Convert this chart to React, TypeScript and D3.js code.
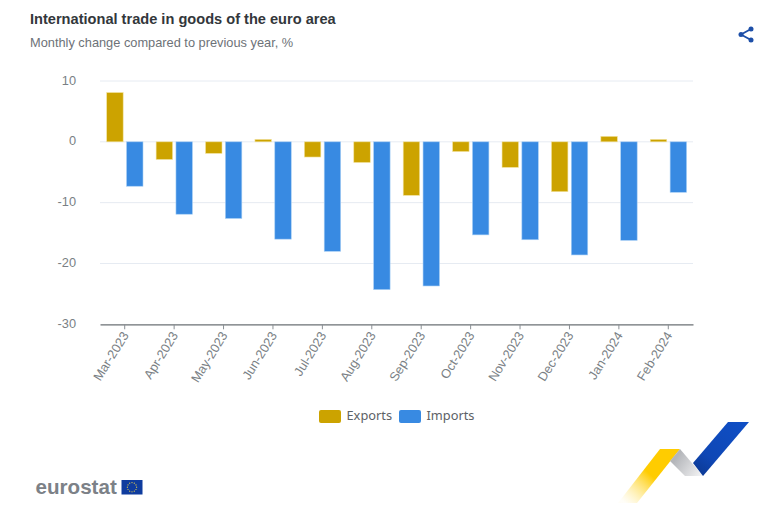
import React, { useEffect, useRef } from 'react';
import * as d3 from 'd3';

const months = ['Mar-2023', 'Apr-2023', 'May-2023', 'Jun-2023', 'Jul-2023', 'Aug-2023', 'Sep-2023', 'Oct-2023', 'Nov-2023', 'Dec-2023', 'Jan-2024', 'Feb-2024'];
const exportsPct = [8.1, -2.9, -1.9, 0.4, -2.5, -3.4, -8.8, -1.6, -4.2, -8.2, 0.9, 0.4];
const importsPct = [-7.3, -11.9, -12.6, -16.0, -18.0, -24.3, -23.7, -15.3, -16.1, -18.6, -16.2, -8.3];
const yTicks = [10, 0, -10, -20, -30];
const seriesNames = ['Exports', 'Imports'];

const GOLD = '#cca300';
const BLUE = '#388ae2';
const FONT = '"Liberation Sans", Arial, sans-serif';

const W = 781;
const H = 509;

const App: React.FC = () => {
  const svgRef = useRef<SVGSVGElement>(null);

  useEffect(() => {
    if (!svgRef.current) return;
    const svg = d3.select(svgRef.current);
    svg.selectAll('*').remove();

    const x = d3.scaleBand<string>().domain(months).range([100, 693]);
    const inner = d3.scaleBand<string>().domain(seriesNames).range([6.7, 43]).paddingInner(0.17);
    const y = d3.scaleLinear().domain([-30, 10]).range([324.3, 81]);

    // grid
    svg.append('g')
      .selectAll('line')
      .data(yTicks.filter(d => d !== -30))
      .enter()
      .append('line')
      .attr('x1', 100)
      .attr('x2', 693)
      .attr('y1', d => y(d))
      .attr('y2', d => y(d))
      .attr('stroke', '#e6ebf2')
      .attr('stroke-width', 1);

    // y labels
    svg.append('g')
      .selectAll('text')
      .data(yTicks)
      .enter()
      .append('text')
      .attr('x', 76)
      .attr('y', d => y(d) + 3.5)
      .attr('text-anchor', 'end')
      .attr('font-family', FONT)
      .attr('font-size', 12.8)
      .attr('fill', '#7a7f85')
      .text(d => d);

    // bars
    const series = [
      { name: seriesNames[0], values: exportsPct, color: GOLD, stroke: '#f2e3a0' },
      { name: seriesNames[1], values: importsPct, color: BLUE, stroke: '#a9d0f5' },
    ];
    series.forEach(s => {
      svg.append('g')
        .selectAll('rect')
        .data(s.values)
        .enter()
        .append('rect')
        .attr('x', (d, i) => (x(months[i]) as number) + (inner(s.name) as number))
        .attr('y', d => y(Math.max(d, 0)))
        .attr('width', inner.bandwidth())
        .attr('height', d => Math.abs(y(d) - y(0)))
        .attr('fill', s.color)
        .attr('stroke', s.stroke)
        .attr('stroke-width', 0.6);
    });

    // x axis
    const axis = svg.append('g')
      .attr('transform', `translate(0,${y(-30)})`)
      .call(d3.axisBottom(x).tickSize(5).tickSizeOuter(0));
    axis.select('.domain').attr('stroke', '#6b7075').attr('stroke-width', 1.2);
    axis.selectAll('.tick line').attr('stroke', '#8a8f94');
    axis.selectAll('.tick text')
      .attr('font-family', FONT)
      .attr('font-size', 12.8)
      .attr('fill', '#7a7f85')
      .attr('text-anchor', 'end')
      .attr('dy', 0)
      .attr('y', 0)
      .attr('transform', 'translate(4.5,11) rotate(-58)');

    // titles
    svg.append('text')
      .attr('x', 30)
      .attr('y', 24)
      .attr('font-family', FONT)
      .attr('font-size', 14.6)
      .attr('font-weight', 'bold')
      .attr('fill', '#33373b')
      .text('International trade in goods of the euro area');
    svg.append('text')
      .attr('x', 30)
      .attr('y', 46.5)
      .attr('font-family', FONT)
      .attr('font-size', 12.8)
      .attr('fill', '#6d7278')
      .text('Monthly change compared to previous year, %');

    // legend
    const legendX = [319, 399];
    series.forEach((s, i) => {
      svg.append('rect')
        .attr('x', legendX[i])
        .attr('y', 410)
        .attr('width', 22)
        .attr('height', 13)
        .attr('rx', 2)
        .attr('fill', s.color);
      svg.append('text')
        .attr('x', legendX[i] + 27.5)
        .attr('y', 420)
        .attr('font-family', '"Noto Sans", sans-serif')
        .attr('font-size', 12.8)
        .attr('fill', '#5c6166')
        .text(s.name);
    });

    // share icon
    const share = svg.append('g').attr('fill', '#1d4fa8').attr('stroke', '#1d4fa8');
    const sharePts: [number, number][] = [[751, 29], [741, 34.5], [751, 40]];
    share.append('path')
      .attr('fill', 'none')
      .attr('stroke-width', 1.8)
      .attr('d', d3.line()(sharePts));
    share.selectAll('circle')
      .data(sharePts)
      .enter()
      .append('circle')
      .attr('cx', d => d[0])
      .attr('cy', d => d[1])
      .attr('r', 2.5)
      .attr('stroke', 'none');

    // eurostat logo
    svg.append('text')
      .attr('x', 35.5)
      .attr('y', 494)
      .attr('font-family', FONT)
      .attr('font-size', 20.6)
      .attr('font-weight', 'bold')
      .attr('fill', '#7c8187')
      .text('eurostat');
    svg.append('rect')
      .attr('x', 121.5)
      .attr('y', 480)
      .attr('width', 21)
      .attr('height', 14.5)
      .attr('fill', '#0f3c9e');
    const stars = d3.range(12).map(i => (i * Math.PI) / 6);
    svg.append('g')
      .selectAll('circle')
      .data(stars)
      .enter()
      .append('circle')
      .attr('cx', a => 132 + 4.6 * Math.cos(a))
      .attr('cy', a => 487.2 + 4.6 * Math.sin(a))
      .attr('r', 0.6)
      .attr('fill', '#e8d24a');

    // ribbon in the corner
    const defs = svg.append('defs');
    const grad = (id: string, x1: number, y1: number, x2: number, y2: number, stops: [number, string, number][]) => {
      const g = defs.append('linearGradient')
        .attr('id', id)
        .attr('gradientUnits', 'userSpaceOnUse')
        .attr('x1', x1).attr('y1', y1).attr('x2', x2).attr('y2', y2);
      stops.forEach(st => {
        g.append('stop').attr('offset', st[0]).attr('stop-color', st[1]).attr('stop-opacity', st[2]);
      });
    };
    grad('rYellow', 672, 452, 625, 503, [[0, '#ffcc00', 1], [0.45, '#ffcc00', 1], [1, '#ffe680', 0.05]]);
    grad('rGrey', 676, 458, 703, 476, [[0, '#b4b6ba', 1], [1, '#f6f6f7', 1]]);
    grad('rBlue', 738, 422, 700, 474, [[0, '#0f4ec4', 1], [0.7, '#0f47b5', 1], [1, '#0c3a96', 1]]);
    const ribbon: [string, [number, number][]][] = [
      ['rYellow', [[660, 449], [680, 449], [637, 503], [618, 503]]],
      ['rGrey', [[680, 449], [703, 476], [685, 476], [670, 461]]],
      ['rBlue', [[728, 422], [749, 422], [703, 476], [693, 463]]],
    ];
    ribbon.forEach(([id, pts]) => {
      svg.append('polygon')
        .attr('points', pts.map(p => p.join(',')).join(' '))
        .attr('fill', `url(#${id})`);
    });
  }, []);

  return (
    <svg
      ref={svgRef}
      width={W}
      height={H}
      style={{ position: 'absolute', left: 0, top: 0, background: '#fff' }}
    />
  );
};

export default App;
